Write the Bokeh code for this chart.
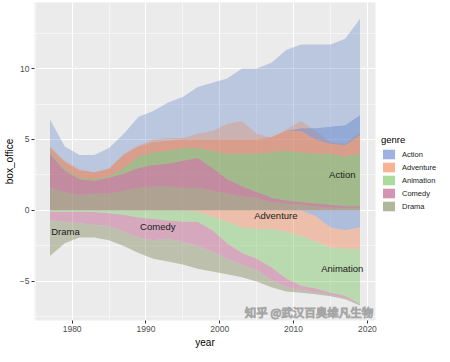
from bokeh.plotting import figure
from bokeh.models import ColumnDataSource, FixedTicker, Legend, LegendItem, Label, Range1d
from bokeh.core.properties import value
from bokeh.embed import file_html
from bokeh.resources import INLINE

years = [1977, 1979, 1981, 1983, 1985, 1987, 1989, 1991, 1993, 1995, 1997,
         1999, 2001, 2003, 2005, 2007, 2009, 2011, 2013, 2015, 2017, 2019]

# overlapping "ridge" areas (from zero)
ridge_action = [6.4, 4.5, 3.9, 3.9, 4.4, 5.4, 6.6, 7.0, 7.6, 8.0, 8.7,
                9.0, 9.3, 10.0, 10.0, 10.4, 11.3, 11.7, 11.7, 11.7, 12.1, 13.5]
ridge_adventure = [4.5, 3.5, 2.9, 2.7, 3.0, 4.0, 4.6, 5.0, 5.1, 5.1, 5.4,
                   5.6, 6.1, 6.3, 5.4, 5.1, 5.7, 6.3, 5.6, 4.8, 4.7, 5.5]

# stacked stream above zero (bottom -> top: Drama, Comedy, Animation, Adventure, Action)
up_drama = [1.6, 1.3, 1.1, 1.2, 1.2, 1.4, 1.6, 1.7, 1.7, 1.6, 1.6,
            1.4, 1.2, 1.0, 0.9, 0.6, 0.5, 0.4, 0.3, 0.2, 0.2, 0.2]
up_comedy = [2.4, 1.5, 1.1, 0.9, 1.1, 1.2, 1.4, 1.5, 1.6, 1.9, 2.1,
             1.6, 1.0, 0.7, 0.4, 0.3, 0.2, 0.2, 0.2, 0.2, 0.1, 0.1]
up_animation = [0.1, 0.1, 0.1, 0.1, 0.1, 0.4, 0.8, 0.9, 0.9, 0.9, 0.7,
                1.2, 1.8, 2.3, 2.7, 3.2, 3.5, 3.5, 3.5, 3.6, 3.5, 3.7]
up_adventure = [0.3, 0.5, 0.5, 0.5, 0.5, 0.9, 0.7, 0.7, 0.7, 0.6, 0.6,
                0.8, 1.0, 1.0, 1.0, 1.1, 1.4, 1.5, 1.0, 0.7, 0.8, 1.3]
up_action = [0, 0, 0, 0, 0, 0, 0, 0, 0, 0, 0,
             0, 0, 0, 0, 0, 0, 0.2, 0.8, 1.2, 1.4, 1.4]

# stacked stream below zero (top -> bottom: Action, Adventure, Animation, Comedy, Drama)
dn_action = [0, 0, 0, 0, 0, 0, 0, 0, 0, 0, 0,
             0, 0, 0, 0, 0, 0, 0, 0.4, 1.2, 1.4, 1.2]
dn_adventure = [0, 0, 0, 0, 0, 0, 0, 0, 0, 0, 0.1,
                0.4, 0.8, 1.2, 1.3, 1.3, 1.5, 1.8, 1.8, 1.4, 1.3, 1.5]
dn_animation = [0.1, 0.1, 0.1, 0.1, 0.2, 0.3, 0.5, 0.6, 0.7, 0.8, 0.7,
                1.0, 1.5, 1.8, 2.1, 2.7, 3.3, 3.5, 3.3, 3.2, 3.3, 3.9]
dn_comedy = [0.6, 0.7, 0.8, 0.9, 0.9, 1.2, 1.4, 1.5, 1.3, 1.4, 1.7,
             1.5, 1.1, 0.8, 0.8, 0.9, 0.6, 0.3, 0.25, 0.15, 0.15, 0.05]
dn_drama = [2.5, 1.5, 1.0, 0.9, 1.0, 1.0, 1.1, 1.3, 1.6, 1.6, 1.6,
            1.4, 1.1, 0.9, 0.8, 0.5, 0.3, 0.2, 0.15, 0.1, 0.1, 0.05]

genres = ["Action", "Adventure", "Animation", "Comedy", "Drama"]
colors = ["#5B7FC9", "#F0804F", "#74C45C", "#B84C80", "#7F8658"]

label_text = ["Drama", "Comedy", "Adventure", "Animation", "Action"]
label_x = [1979.1, 1991.6, 2007.6, 2016.6, 2016.6]
label_y = [-1.5, -1.15, -0.35, -4.1, 2.5]

x_major = [1980, 1990, 2000, 2010, 2020]
x_minor = [1975, 1985, 1995, 2005, 2015]
y_major = [-5, 0, 5, 10]
y_minor = [-7.5, -2.5, 2.5, 7.5, 12.5]

src = ColumnDataSource(dict(
    year=years,
    ridge_action=ridge_action, ridge_adventure=ridge_adventure,
    up_drama=up_drama, up_comedy=up_comedy, up_animation=up_animation,
    up_adventure=up_adventure, up_action=up_action,
    dn_action=[-v for v in dn_action], dn_adventure=[-v for v in dn_adventure],
    dn_animation=[-v for v in dn_animation], dn_comedy=[-v for v in dn_comedy],
    dn_drama=[-v for v in dn_drama],
))

FW, FH = 341, 318
p = figure(frame_width=FW, frame_height=FH, x_range=Range1d(1974.9, 2021.1),
           y_range=Range1d(-7.75, 14.65), output_backend="svg",
           toolbar_location=None, min_border_left=20, min_border_right=0,
           min_border_top=2, min_border_bottom=2)
p.background_fill_color = "#EBEBEB"
p.border_fill_color = "white"
p.outline_line_color = None

p.varea(x="year", y1=0, y2="ridge_action", source=src,
        fill_color=colors[0], fill_alpha=0.33)
p.varea(x="year", y1=0, y2="ridge_adventure", source=src,
        fill_color=colors[1], fill_alpha=0.3)
p.varea_stack(stackers=["up_drama", "up_comedy", "up_animation", "up_adventure", "up_action"],
              x="year", source=src,
              fill_color=[colors[4], colors[3], colors[2], colors[1], colors[0]],
              fill_alpha=[0.36, 0.38, 0.46, 0.4, 0.4])
p.varea_stack(stackers=["dn_action", "dn_adventure", "dn_animation", "dn_comedy", "dn_drama"],
              x="year", source=src, fill_color=colors, fill_alpha=0.42)

p.text(x=label_x, y=label_y, text=label_text, text_font=value("Liberation Sans"),
       text_font_size=value("9.5px"), text_align="center", text_baseline="middle",
       text_color="#1A1A1A")

# grids
p.xgrid.ticker = FixedTicker(ticks=x_major, minor_ticks=x_minor)
p.ygrid.ticker = FixedTicker(ticks=y_major, minor_ticks=y_minor)
for g in (p.xgrid, p.ygrid):
    g.grid_line_color = "white"
    g.grid_line_width = 1.1
    g.minor_grid_line_color = "white"
    g.minor_grid_line_width = 0.5

p.xaxis.ticker = FixedTicker(ticks=x_major)
p.yaxis.ticker = FixedTicker(ticks=y_major)
p.xaxis.axis_label = "year"
p.yaxis.axis_label = "box_office"
for ax in (p.xaxis, p.yaxis):
    ax.axis_line_color = None
    ax.major_tick_line_color = "#333333"
    ax.major_tick_out = 3
    ax.major_tick_in = 0
    ax.minor_tick_line_color = None
    ax.major_label_text_color = "#4D4D4D"
    ax.major_label_text_font = "Liberation Sans"
    ax.major_label_text_font_size = "8.5px"
    ax.major_label_standoff = 2
    ax.axis_label_text_font = "Liberation Sans"
    ax.axis_label_text_font_size = "10px"
    ax.axis_label_text_font_style = "normal"
    ax.axis_label_text_color = "#000000"
    ax.axis_label_standoff = 2

# legend (key swatches drawn by off-screen rect renderers)
items = []
for g, c in zip(genres, colors):
    r = p.rect(x=[1900], y=[0], width=1, height=1, fill_color=c,
               fill_alpha=0.6, line_color=None)
    items.append(LegendItem(label=g, renderers=[r]))
legend = Legend(items=items, title="genre", location=(6, 108))
legend.title_text_font = "Liberation Sans"
legend.title_text_font_size = "9.5px"
legend.title_text_font_style = "normal"
legend.title_text_color = "#000000"
legend.title_standoff = 3
legend.label_text_font = "Liberation Sans"
legend.label_text_font_size = "7.5px"
legend.label_text_color = "#1A1A1A"
legend.glyph_width = 15
legend.glyph_height = 12
legend.spacing = 1
legend.padding = 4
legend.margin = 6
legend.label_standoff = 6
legend.label_height = 12
legend.label_width = 36
legend.background_fill_alpha = 0
legend.border_line_color = None
p.add_layout(legend, "right")

# watermark (kept inside the plot frame so it is not clipped)
wm_text = "知乎 @武汉百奥维凡生物"
p.add_layout(Label(x=2020.8, y=-7.15, text=wm_text, text_font="Noto Sans CJK SC",
                   text_font_size="11.5px", text_color="white", text_alpha=0.9,
                   text_outline_color="#9A9A9A", text_align="right",
                   text_baseline="middle"))

open("out.html", "w").write(file_html(p, INLINE))
